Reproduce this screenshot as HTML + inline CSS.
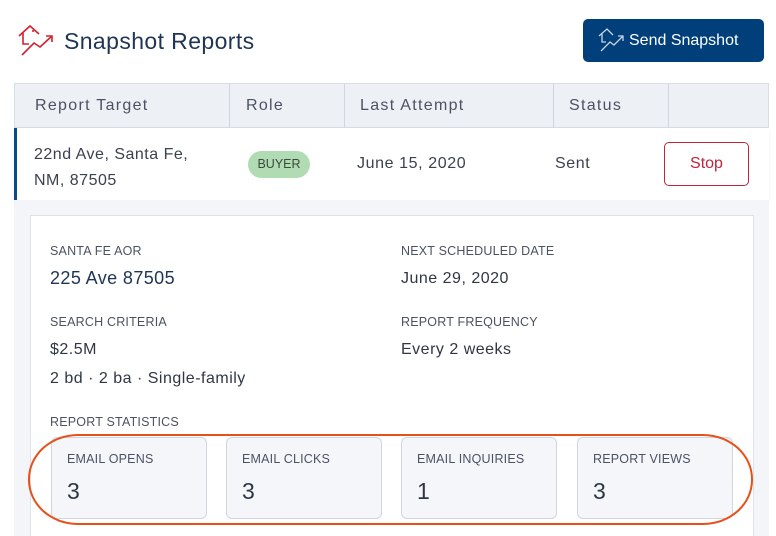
<!DOCTYPE html>
<html><head><meta charset="utf-8"><style>
*{margin:0;padding:0;box-sizing:border-box}
html,body{width:776px;height:536px;overflow:hidden}
body{background:#fff;font-family:"Liberation Sans",sans-serif;color:#3b4150;position:relative}
.a{position:absolute;white-space:nowrap}
.lbl{font-size:12.5px;color:#4b5263;letter-spacing:0.2px}
.val{font-size:16px;color:#2f3646;letter-spacing:0.5px}
.stat{position:absolute;top:437px;height:82px;width:156px;background:#f4f6fa;border:1px solid #cfd6e2;border-radius:6px}
.stat .t{position:absolute;left:15px;top:14px;font-size:12.5px;color:#4b5263;letter-spacing:0.2px}
.stat .n{position:absolute;left:15px;top:40px;font-size:23px;color:#2f3646}
</style></head><body>
<svg class="a" style="left:18px;top:24px" width="38" height="34" viewBox="0 0 38 34" fill="none" stroke="#d4202f" stroke-width="1.6">
<path d="M1 12 L12 2 L21 10"/><path d="M5 9 V20 H11"/><path d="M15 6 V8"/><path d="M4 31 L16 19 L22 23 L34 12"/><path d="M28 12 H34 V18"/></svg>
<div class="a" style="left:64px;top:28px;font-size:23px;color:#1e3556;letter-spacing:0.4px">Snapshot Reports</div>
<div class="a" style="left:583px;top:19px;width:181px;height:43px;background:#003f7a;border-radius:5px"></div>
<svg class="a" style="left:598px;top:27px" width="26" height="26" viewBox="0 0 26 26" fill="none" stroke="#c9d3e3" stroke-width="1.3">
<path d="M1 9 L9 2 L15 8"/><path d="M4 7 V15 H8"/><path d="M3 24 L12 15 L16 18 L25 9"/><path d="M20 9 H25 V14"/></svg>
<div class="a" style="left:629px;top:32px;font-size:16px;color:#fff">Send Snapshot</div>
<div class="a" style="left:14px;top:83px;width:755px;height:45px;background:#edf0f5;border:1px solid #d8dee8"></div>
<div class="a" style="left:229px;top:84px;width:1px;height:44px;background:#cfd6e2"></div>
<div class="a" style="left:344px;top:84px;width:1px;height:44px;background:#cfd6e2"></div>
<div class="a" style="left:553px;top:84px;width:1px;height:44px;background:#cfd6e2"></div>
<div class="a" style="left:668px;top:84px;width:1px;height:44px;background:#cfd6e2"></div>
<div class="a" style="left:35px;top:97px;font-size:16px;letter-spacing:1.3px;color:#4b5263">Report Target</div>
<div class="a" style="left:246px;top:97px;font-size:16px;letter-spacing:1.3px;color:#4b5263">Role</div>
<div class="a" style="left:360px;top:97px;font-size:16px;letter-spacing:1.3px;color:#4b5263">Last Attempt</div>
<div class="a" style="left:569px;top:97px;font-size:16px;letter-spacing:1.3px;color:#4b5263">Status</div>
<div class="a" style="left:14px;top:128px;width:755px;height:72px;background:#fff;border-left:3px solid #0b4a85;box-shadow:0 2px 4px rgba(0,0,0,0.06)"></div>
<div class="a" style="left:34px;top:142px;font-size:16px;line-height:26px;color:#3b4150;letter-spacing:0.5px">22nd Ave, Santa Fe,<br>NM, 87505</div>
<div class="a" style="left:248px;top:151px;width:62px;height:27px;background:#b1dbb2;border-radius:14px;font-size:12.5px;color:#3b4a3e;text-align:center;line-height:27px">BUYER</div>
<div class="a" style="left:357px;top:155px;font-size:16px;letter-spacing:0.6px">June 15, 2020</div>
<div class="a" style="left:555px;top:155px;font-size:16px;letter-spacing:0.6px">Sent</div>
<div class="a" style="left:664px;top:142px;width:85px;height:44px;border:1px solid #c0253a;border-radius:5px;color:#c0253a;font-size:16px;text-align:center;line-height:42px">Stop</div>
<div class="a" style="left:14px;top:200px;width:755px;height:336px;background:#f4f5f9"></div>
<div class="a" style="left:30px;top:215px;width:724px;height:321px;background:#fff;border:1px solid #dde2ea;border-bottom:none"></div>
<div class="a lbl" style="left:50px;top:244px">SANTA FE AOR</div>
<div class="a" style="left:50px;top:268px;font-size:18px;color:#1e3556;letter-spacing:0.4px">225 Ave 87505</div>
<div class="a lbl" style="left:401px;top:244px">NEXT SCHEDULED DATE</div>
<div class="a val" style="left:401px;top:270px">June 29, 2020</div>
<div class="a lbl" style="left:50px;top:315px">SEARCH CRITERIA</div>
<div class="a val" style="left:50px;top:341px">$2.5M</div>
<div class="a val" style="left:50px;top:370px">2 bd · 2 ba · Single-family</div>
<div class="a lbl" style="left:401px;top:315px">REPORT FREQUENCY</div>
<div class="a val" style="left:401px;top:341px">Every 2 weeks</div>
<div class="a lbl" style="left:50px;top:415px">REPORT STATISTICS</div>
<div class="stat" style="left:51px"><div class="t">EMAIL OPENS</div><div class="n">3</div></div>
<div class="stat" style="left:226px"><div class="t">EMAIL CLICKS</div><div class="n">3</div></div>
<div class="stat" style="left:401px"><div class="t">EMAIL INQUIRIES</div><div class="n">1</div></div>
<div class="stat" style="left:577px"><div class="t">REPORT VIEWS</div><div class="n">3</div></div>
<div class="a" style="left:28px;top:434px;width:725px;height:91px;border:2px solid #e8501a;border-radius:50px / 45px"></div>
</body></html>
